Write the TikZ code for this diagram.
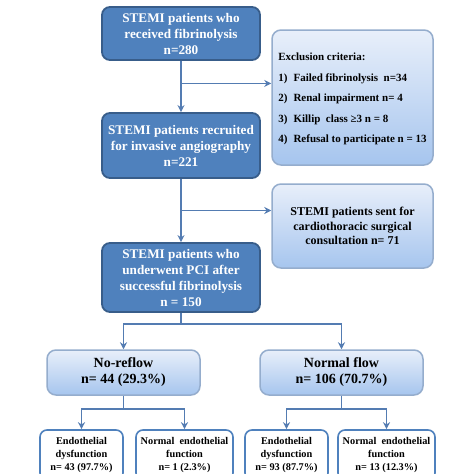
\documentclass[tikz,border=0pt]{standalone}
\usepackage{fontspec}
\setmainfont{Liberation Serif}
\usetikzlibrary{arrows.meta,calc}
\definecolor{darkfill}{RGB}{79,129,189}
\definecolor{darkedge}{RGB}{56,93,138}
\definecolor{lighttop}{RGB}{232,239,250}
\definecolor{lightbot}{RGB}{166,197,238}
\definecolor{lightedge}{RGB}{149,173,205}
\definecolor{conn}{RGB}{84,124,178}
\tikzset{
  darkbox/.style={draw=darkedge, line width=1.8pt, fill=darkfill, rounded corners=8pt,
    text=white, font=\fontsize{13.2}{16}\selectfont\bfseries, align=center, inner sep=0pt},
  lightbox/.style={draw=lightedge, line width=1.5pt, top color=lighttop, bottom color=lightbot,
    rounded corners=9pt, font=\bfseries, align=center, inner sep=0pt},
  whitebox/.style={draw=darkfill, line width=1.6pt, fill=white, rounded corners=7pt,
    font=\fontsize{10.3}{13}\selectfont\bfseries, align=center, inner sep=0pt},
  conn/.style={draw=conn, line width=1.8pt},
  arr/.style={conn, -{Stealth[length=7pt,width=7pt]}}
}
\begin{document}
\begin{tikzpicture}[x=1pt,y=-1pt]
\useasboundingbox (0,0) rectangle (474,474);
\clip (0,0) rectangle (474,474);
\fill[white] (0,0) rectangle (474,474);
% main column
\node[darkbox, minimum width=158pt, minimum height=53pt] (b1) at (181,33.5)
  {STEMI patients who\\received fibrinolysis\\n=280};
\node[darkbox, minimum width=158pt, minimum height=65pt] (b2) at (181,145.5)
  {STEMI patients recruited\\for invasive angiography\\n=221};
\node[darkbox, minimum width=158pt, minimum height=69pt] (b3) at (181,277.5)
  {STEMI patients who\\underwent PCI after\\successful fibrinolysis\\n = 150};
% side boxes
\node[lightbox, minimum width=161pt, minimum height=135pt, font=\fontsize{11}{21.5}\selectfont\bfseries] (ex) at (352.5,97.5)
  {\begin{tabular}{@{}l@{\hspace{6pt}}l@{}}
   \multicolumn{2}{@{}l@{}}{Exclusion criteria:}\\[-1pt]
   1) & Failed fibrinolysis\ \ n=34\\[-1pt]
   2) & Renal impairment\ n= 4\\[-1pt]
   3) & Killip\ \ class ≥3 n = 8\\[-1pt]
   4) & Refusal to participate n = 13
   \end{tabular}};
\node[lightbox, minimum width=161pt, minimum height=84pt, font=\fontsize{12}{14.5}\selectfont\bfseries] (cs) at (352.5,226)
  {STEMI patients sent for\\cardiothoracic surgical\\consultation n= 71};
% flow groups
\node[lightbox, minimum width=153pt, minimum height=45pt, font=\fontsize{14}{16}\selectfont\bfseries] (nr) at (123.5,372.5)
  {No-reflow\\n= 44 (29.3\%)};
\node[lightbox, minimum width=163pt, minimum height=45pt, font=\fontsize{14}{16}\selectfont\bfseries] (nf) at (341.5,372.5)
  {Normal flow\\n= 106 (70.7\%)};
% bottom boxes
\node[whitebox, minimum width=83pt, minimum height=50pt] (e1) at (81.5,455)
  {Endothelial\\dysfunction\\n= 43 (97.7\%)};
\node[whitebox, minimum width=97pt, minimum height=50pt] (e2) at (184.5,455)
  {Normal\ \ endothelial\\function\\n= 1 (2.3\%)};
\node[whitebox, minimum width=83pt, minimum height=50pt] (e3) at (286.5,455)
  {Endothelial\\dysfunction\\n= 93 (87.7\%)};
\node[whitebox, minimum width=97pt, minimum height=50pt] (e4) at (386.5,455)
  {Normal\ \ endothelial\\function\\n= 13 (12.3\%)};
% connectors
\draw[arr] (b1) -- (b2);
\coordinate (j1) at ($(b1.south)!0.44!(b2.north)$);
\draw[arr] (j1) -- (j1 -| ex.west);
\draw[arr] (b2) -- (b3);
\coordinate (j2) at ($(b2.south)!0.5!(b3.north)$);
\draw[arr] (j2) -- (j2 -| cs.west);
\coordinate (j3) at ($(b3.south)+(0,11)$);
\draw[conn] (b3.south) -- (j3);
\draw[arr] (j3) -| (nr.north);
\draw[arr] (j3) -| (nf.north);
\coordinate (j4) at ($(nr.south)+(0,13)$);
\draw[conn] (nr.south) -- (j4);
\draw[arr] (j4) -| (e1.north);
\draw[arr] (j4) -| (e2.north);
\coordinate (j5) at ($(nf.south)+(0,13)$);
\draw[conn] (nf.south) -- (j5);
\draw[arr] (j5) -| (e3.north);
\draw[arr] (j5) -| (e4.north);
\end{tikzpicture}
\end{document}
